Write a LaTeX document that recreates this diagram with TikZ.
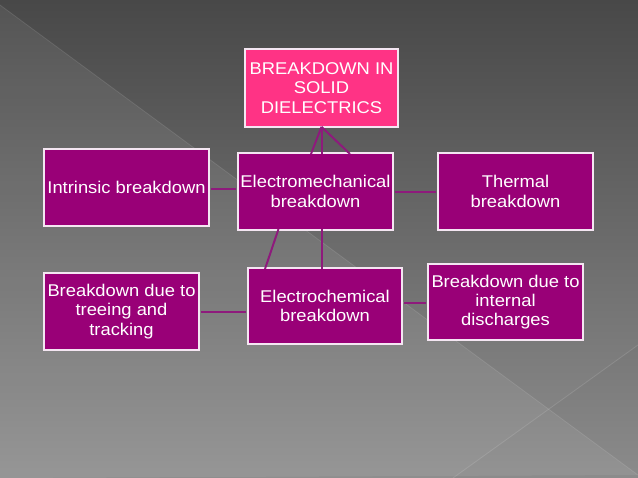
\documentclass[tikz,border=0pt]{standalone}
\usepackage{fontspec}
\setmainfont{Liberation Sans}[FakeStretch=1.08]
\usetikzlibrary{calc}
\definecolor{boxfill}{HTML}{990077}
\definecolor{boxpink}{HTML}{FF3385}
\definecolor{boxedge}{HTML}{F4E6F2}
\definecolor{linkcol}{HTML}{8E1A7C}
\definecolor{bgtop}{HTML}{484848}
\definecolor{bgbot}{HTML}{8E8E8E}
\tikzset{
  box/.style={draw=boxedge, line width=1.6pt, fill=boxfill, text=white,
    align=center, inner sep=0pt, anchor=center,
    font=\fontsize{17}{19.2}\selectfont},
  link/.style={draw=linkcol, line width=2pt}
}
\begin{document}
\begin{tikzpicture}[x=1pt,y=-1pt]
\useasboundingbox (0,0) rectangle (638,478);
% background
\shade[top color=bgtop, bottom color=bgbot] (0,0) rectangle (638,478);
\fill[white, opacity=0.07] (0,5) -- (638,475) -- (0,478) -- cycle;
\fill[black, opacity=0.02] (638,345) -- (453,478) -- (638,478) -- cycle;
\draw[white, opacity=0.10, line width=0.8pt] (0,5) -- (638,475);
\draw[white, opacity=0.13, line width=0.8pt] (638,345) -- (453,478);
% connectors (under the boxes)
\coordinate (topS) at (321.5,127);
\coordinate (e1) at (311,153);
\coordinate (e2) at (321.5,153);
\coordinate (e3) at (350,153);
\coordinate (m1) at (278.5,230);
\coordinate (c1) at (265,268);
\coordinate (m2) at (321.7,230);
\coordinate (c2) at (321.7,268);
% nodes
\node[box, fill=boxpink, minimum width=153pt, minimum height=78pt] (top) at (321.5,88) {BREAKDOWN IN\\SOLID\\DIELECTRICS};
\node[box, minimum width=165pt, minimum height=77pt] (in) at (126.5,187.5) {Intrinsic breakdown};
\node[box, minimum width=155pt, minimum height=77pt] (em) at (315.5,191.5) {Electromechanical\\breakdown};
\node[box, minimum width=155pt, minimum height=77pt] (th) at (515.5,191.5) {Thermal\\breakdown};
\node[box, minimum width=155pt, minimum height=77pt] (tr) at (121.5,311.5) {Breakdown due to\\treeing and\\tracking};
\node[box, minimum width=154pt, minimum height=76pt] (ec) at (325,306) {Electrochemical\\breakdown};
\node[box, minimum width=155pt, minimum height=76pt] (id) at (505.5,302) {Breakdown due to\\internal\\discharges};
% connectors
\draw[link] ([yshift=1pt]top.south) -- ([yshift=-1pt]e1);
\draw[link] ([yshift=1pt]top.south) -- ([yshift=-1pt]e2);
\draw[link] ([yshift=1pt]top.south) -- ([yshift=-1pt]e3);
\draw[link] ([yshift=1pt]m1) -- ([yshift=-1pt]c1);
\draw[link] ([yshift=1pt]m2) -- ([yshift=-1pt]c2);
\draw[link] ([xshift=1pt]in.east |- 0,189.5) -- ([xshift=-1pt]em.west |- 0,189.5);
\draw[link] ([xshift=1pt]em.east |- 0,192.3) -- ([xshift=-1pt]th.west |- 0,192.3);
\draw[link] ([xshift=1pt]tr.east |- 0,312) -- ([xshift=-1pt]ec.west |- 0,312);
\draw[link] ([xshift=1pt]ec.east |- 0,303) -- ([xshift=-1pt]id.west |- 0,303);
\end{tikzpicture}
\end{document}
